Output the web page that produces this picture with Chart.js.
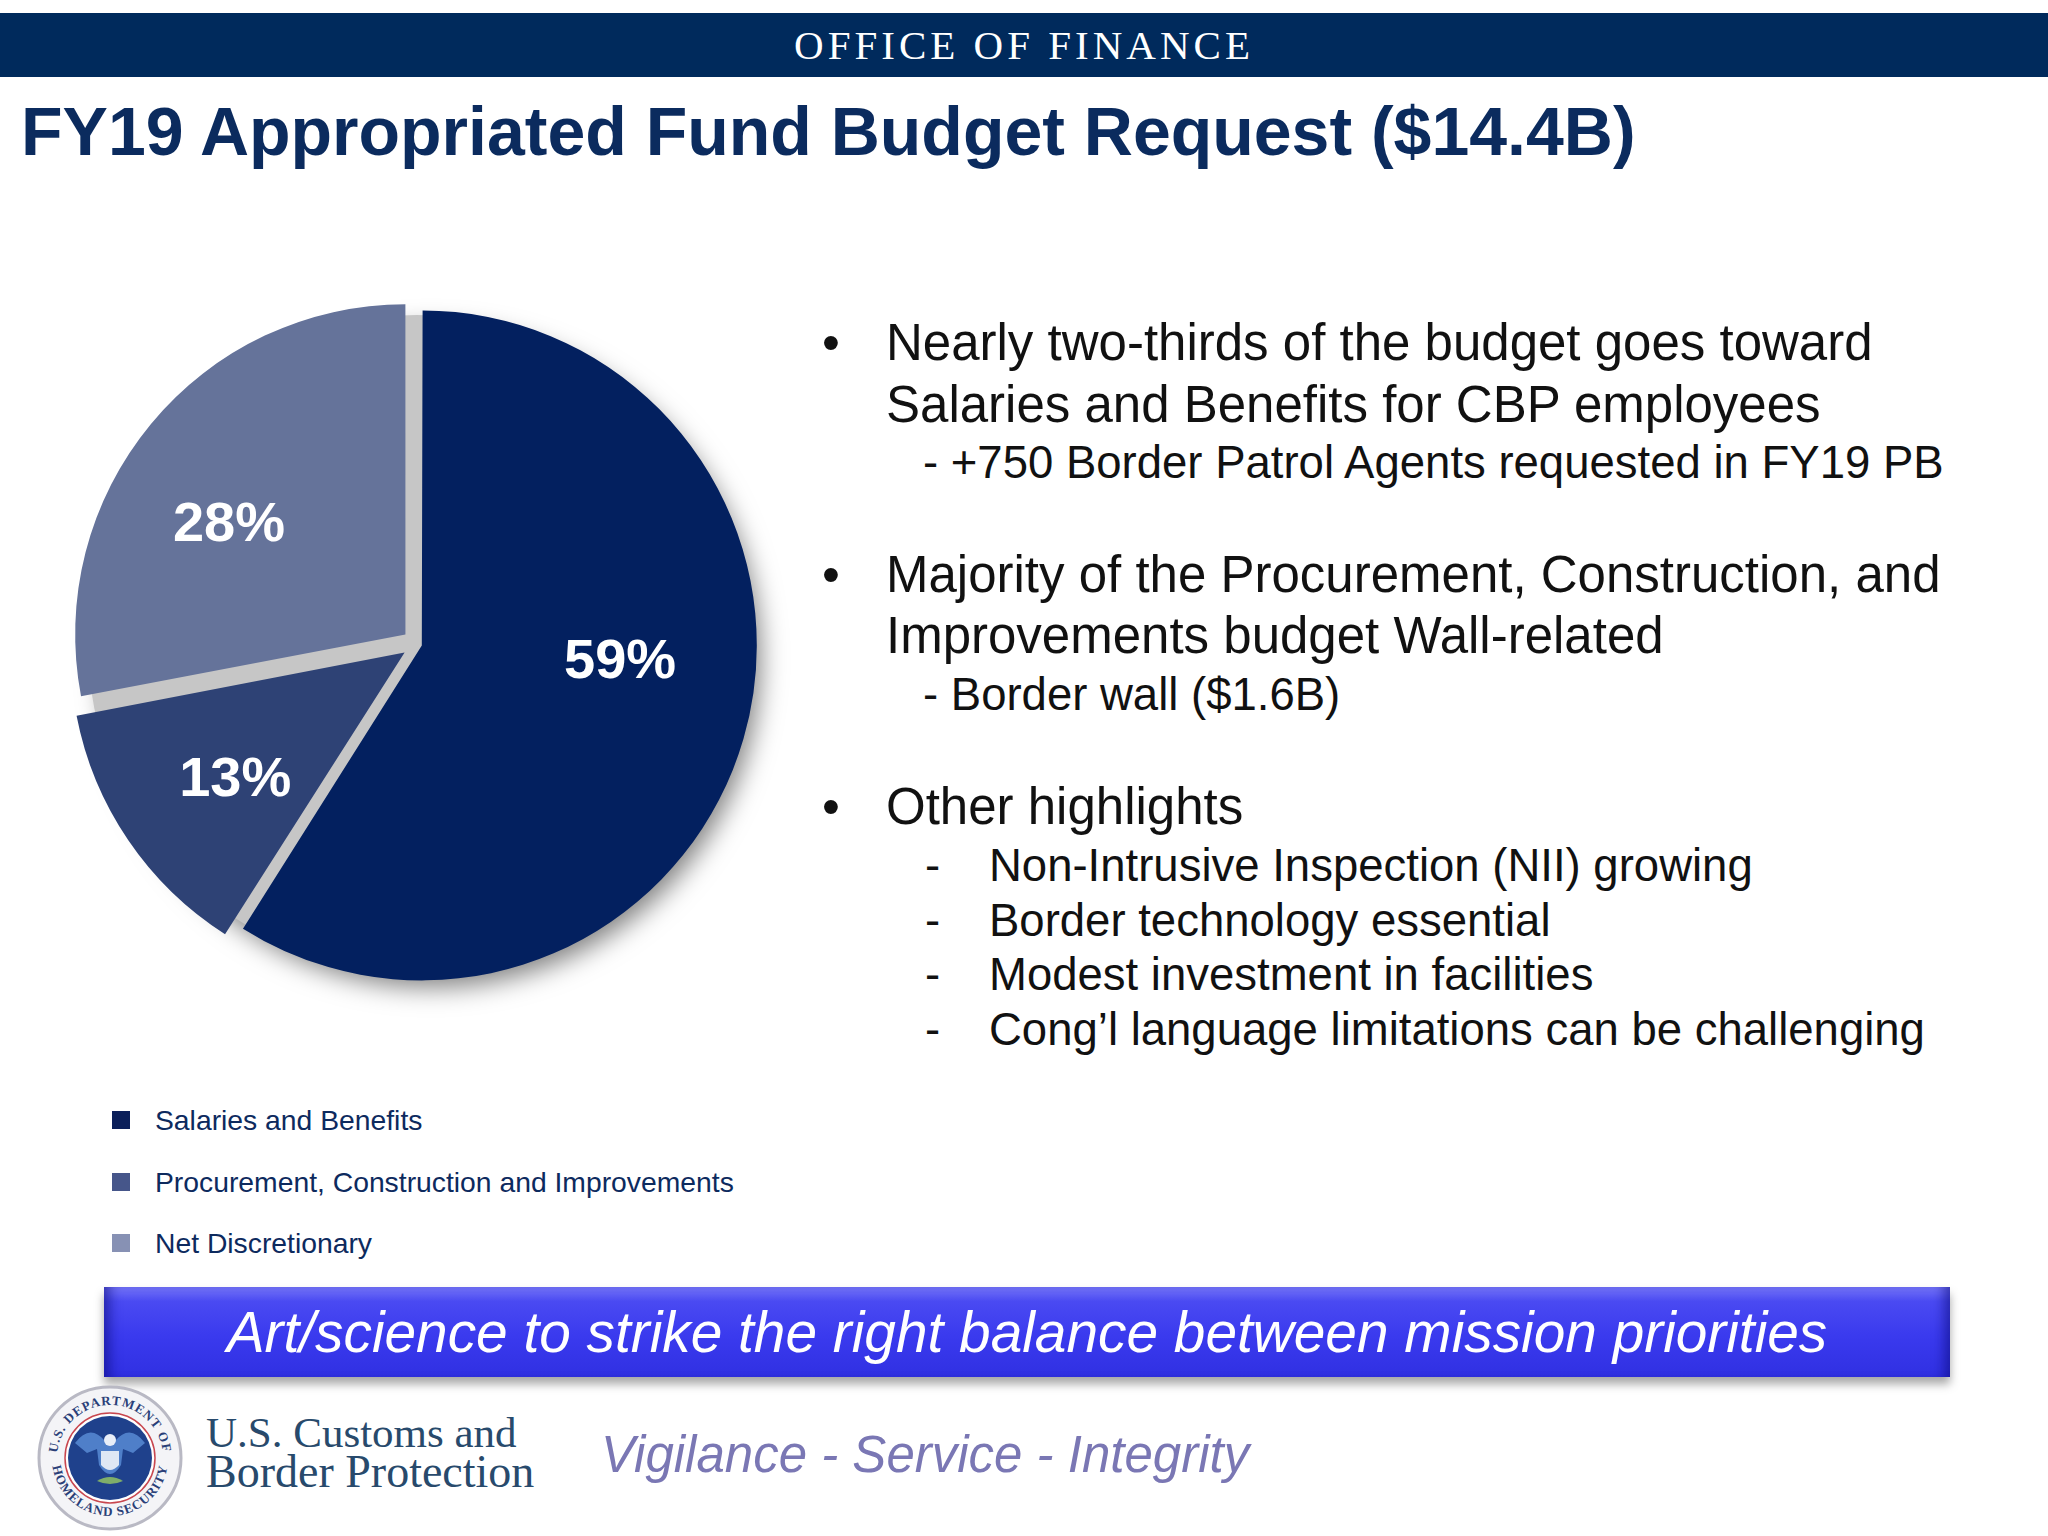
<!DOCTYPE html>
<html>
<head>
<meta charset="utf-8">
<title>FY19 Appropriated Fund Budget Request</title>
<script src="https://cdn.jsdelivr.net/npm/chart.js@4.4.1/dist/chart.umd.min.js"></script>
<style>
  html, body { margin: 0; padding: 0; background: #fff; }
  body { width: 2048px; height: 1536px; position: relative; overflow: hidden;
         font-family: "Liberation Sans", Arial, sans-serif; }
  .abs { position: absolute; white-space: nowrap; line-height: 1; }
  #topbar { left: 0; top: 13px; width: 2048px; height: 64px; background: #002a5c; }
  #office { left: 0; width: 2048px; top: 25px; text-align: center; color: #fff;
            font-family: "Liberation Serif", "Times New Roman", serif; font-size: 41px; letter-spacing: 4px; }
  #title { left: 21px; top: 97px; font-size: 68px; font-weight: bold; color: #0b2b5e; }
  #pieBox { position: absolute; left: 37px; top: 264px; width: 760px; height: 760px; }
  .main { font-size: 51px; color: #111; }
  .sub { font-size: 45.5px; color: #111; }
  .legRow { position: absolute; left: 112px; height: 30px; }
  .legBox { position: absolute; left: 0; top: 5px; width: 18px; height: 18px; }
  .legTxt { position: absolute; left: 43px; top: 0; font-size: 28.3px; line-height: 1; color: #0d2a5e; white-space: nowrap; }
  #banner { left: 104px; top: 1287px; width: 1846px; height: 90px;
            background: linear-gradient(to bottom, #7474f7 0%, #4a4af2 16%, #3a3aee 55%, #3030e2 100%);
            box-shadow: 0 7px 9px rgba(0,0,0,0.35), inset 14px 0 12px -8px rgba(10,10,120,0.55), inset -14px 0 12px -8px rgba(10,10,120,0.55); }
  #bannerTxt { left: 0; top: 18px; width: 1846px; text-align: center; color: #fff;
               font-size: 56.8px; font-style: italic; }
  .cbp { font-family: "Liberation Serif", "Times New Roman", serif; color: #284a6c; left: 206px; }
  #motto { left: 601px; top: 1429px; font-size: 51px; font-style: italic; color: #7a77b4; }
</style>
</head>
<body>
<div id="topbar" class="abs"></div>
<div id="office" class="abs">OFFICE OF FINANCE</div>
<div id="title" class="abs">FY19 Appropriated Fund Budget Request ($14.4B)</div>

<div id="pieBox"><canvas id="pieChart"></canvas></div>

<!-- viñetas -->
<div class="abs main" style="left:822px;top:317px">•</div>
<div class="abs main" style="left:886px;top:317px">Nearly two-thirds of the budget goes toward</div>
<div class="abs main" style="left:886px;top:379px">Salaries and Benefits for CBP employees</div>
<div class="abs sub" style="left:923px;top:440px">- +750 Border Patrol Agents requested in FY19 PB</div>

<div class="abs main" style="left:822px;top:549px">•</div>
<div class="abs main" style="left:886px;top:549px">Majority of the Procurement, Construction, and</div>
<div class="abs main" style="left:886px;top:610px">Improvements budget Wall-related</div>
<div class="abs sub" style="left:923px;top:672px">- Border wall ($1.6B)</div>

<div class="abs main" style="left:822px;top:781px">•</div>
<div class="abs main" style="left:886px;top:781px">Other highlights</div>
<div class="abs sub" style="left:925px;top:843px">-</div>
<div class="abs sub" style="left:989px;top:843px">Non-Intrusive Inspection (NII) growing</div>
<div class="abs sub" style="left:925px;top:898px">-</div>
<div class="abs sub" style="left:989px;top:898px">Border technology essential</div>
<div class="abs sub" style="left:925px;top:952px">-</div>
<div class="abs sub" style="left:989px;top:952px">Modest investment in facilities</div>
<div class="abs sub" style="left:925px;top:1007px">-</div>
<div class="abs sub" style="left:989px;top:1007px">Cong’l language limitations can be challenging</div>

<div id="legend"></div>

<div id="banner" class="abs"><div id="bannerTxt" class="abs">Art/science to strike the right balance between mission priorities</div></div>

<!-- pie de página -->
<svg width="150" height="150" viewBox="0 0 150 150" style="position:absolute;left:35px;top:1383px">
  <defs>
    <path id="topArc" d="M 22,75 A 53,53 0 0 1 128,75"/>
    <path id="botArc" d="M 17,75 A 58,58 0 0 0 133,75"/>
  </defs>
  <circle cx="75" cy="75" r="71" fill="#f4f4f7" stroke="#b9b9c4" stroke-width="3"/>
  <circle cx="75" cy="75" r="45" fill="#fff" stroke="#c8474f" stroke-width="1.5"/>
  <circle cx="75" cy="75" r="42" fill="#1f418c"/>
  <path d="M40 60 Q55 40 70 58 L75 52 L80 58 Q95 40 110 60 L98 70 L88 66 L86 82 Q75 100 64 82 L62 66 L52 70 Z" fill="#4f7fc9"/>
  <circle cx="75" cy="57" r="6" fill="#e8eef8"/>
  <path d="M66 68 L84 68 L84 82 Q75 92 66 82 Z" fill="#dfe7f4"/>
  <path d="M62 98 Q75 90 88 98 Q75 104 62 98 Z" fill="#7fae6a"/>
  <text font-family="Liberation Serif" font-weight="bold" font-size="13" fill="#2a3f78" letter-spacing="1">
    <textPath href="#topArc" startOffset="50%" text-anchor="middle">U.S. DEPARTMENT OF</textPath></text>
  <text font-family="Liberation Serif" font-weight="bold" font-size="13" fill="#2a3f78" letter-spacing="1">
    <textPath href="#botArc" startOffset="50%" text-anchor="middle">HOMELAND SECURITY</textPath></text>
</svg>
<div class="abs cbp" style="top:1411px;font-size:43px">U.S. Customs and</div>
<div class="abs cbp" style="top:1449px;font-size:46px">Border Protection</div>
<div id="motto" class="abs">Vigilance - Service - Integrity</div>

<script>
// Datos del gráfico
const categories = ['Salaries and Benefits', 'Procurement, Construction and Improvements', 'Net Discretionary'];
const shares = [59, 13, 28];
const sliceColors = ['#03205f', '#2e4275', '#65739a'];
const legendSwatches = ['#0b1f5a', '#46568a', '#8791b4'];

// Leyenda en HTML a partir de las mismas listas
const legend = document.getElementById('legend');
categories.forEach((name, i) => {
    const row = document.createElement('div');
    row.className = 'legRow';
    row.style.top = (1106 + i * 61.5) + 'px';
    row.innerHTML = `<div class="legBox" style="background:${legendSwatches[i]}"></div><div class="legTxt">${name}</div>`;
    legend.appendChild(row);
});

// Disco gris con sombra detrás de las porciones
const plateShadow = {
    id: 'plateShadow',
    beforeDatasetsDraw(chart) {
        const arc = chart.getDatasetMeta(0).data[0];
        if (!arc) return;
        const ctx = chart.ctx;
        ctx.save();
        ctx.shadowColor = 'rgba(0, 0, 0, 0.5)';
        ctx.shadowBlur = 26;
        ctx.shadowOffsetX = 14;
        ctx.shadowOffsetY = 14;
        ctx.fillStyle = '#c6c6c6';
        ctx.beginPath();
        ctx.arc(arc.x, arc.y, arc.outerRadius - 1, 0, Math.PI * 2);
        ctx.fill();
        ctx.restore();
    }
};

// Etiquetas de porcentaje dentro de cada porción
const sliceLabels = {
    id: 'sliceLabels',
    afterDatasetsDraw(chart) {
        const ctx = chart.ctx;
        const meta = chart.getDatasetMeta(0);
        ctx.save();
        ctx.font = 'bold 56px "Liberation Sans", Arial, sans-serif';
        ctx.fillStyle = '#ffffff';
        ctx.textAlign = 'center';
        ctx.textBaseline = 'alphabetic';
        meta.data.forEach((arc, i) => {
            const mid = (arc.startAngle + arc.endAngle) / 2;
            const shift = (arc.options.offset || 0) / 4;
            const a = arc.startAngle + (arc.endAngle - arc.startAngle) * 0.44;
            const d = arc.outerRadius * 0.62;
            const x = arc.x + Math.cos(mid) * shift + Math.cos(a) * d - 6;
            const y = arc.y + Math.sin(mid) * shift + Math.sin(a) * d;
            ctx.fillText(shares[i] + '%', x, y + 20);
        });
        ctx.restore();
    }
};

const ctx = document.getElementById('pieChart').getContext('2d');
new Chart(ctx, {
    type: 'pie',
    data: {
        labels: categories,
        datasets: [{
            data: shares,
            backgroundColor: sliceColors,
            borderWidth: 0,
            offset: [20, 60, 60],
            radius: 330
        }]
    },
    options: {
        responsive: true,
        maintainAspectRatio: false,
        animation: false,
        events: [],
        layout: { padding: 0 },
        plugins: {
            legend: { display: false },
            tooltip: { enabled: false }
        }
    },
    plugins: [plateShadow, sliceLabels]
});
</script>
</body>
</html>
